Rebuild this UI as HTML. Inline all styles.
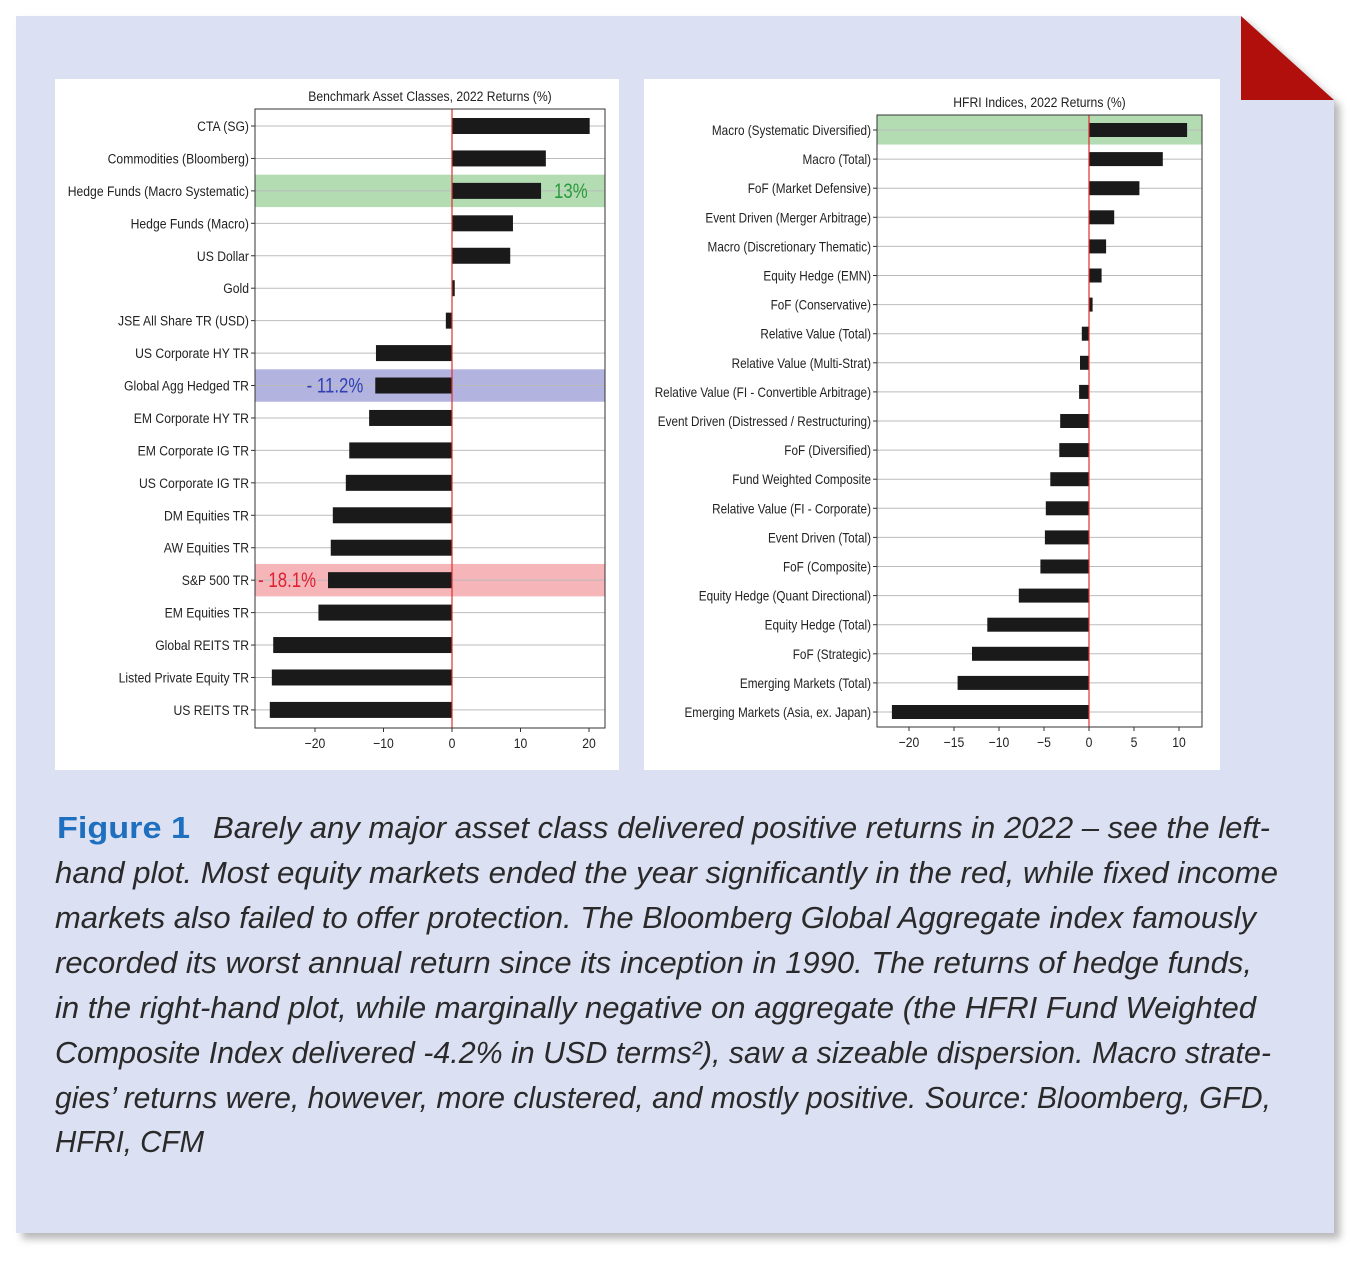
<!DOCTYPE html>
<html><head><meta charset="utf-8"><style>
body{margin:0;background:#fff;width:1371px;height:1273px;overflow:hidden;font-family:"Liberation Sans",sans-serif}
</style></head><body>
<svg id="s" width="1371" height="1273" xmlns="http://www.w3.org/2000/svg" style="position:absolute;left:0;top:0">
<defs><filter id="sh" x="-5%" y="-5%" width="110%" height="110%"><feDropShadow dx="6" dy="6" stdDeviation="4" flood-color="#888" flood-opacity="0.6"/></filter></defs>
<polygon points="16,16 1241,16 1334,100 1334,1233 16,1233" fill="#dce0f3" filter="url(#sh)"/>
<polygon points="1241,16 1241,100 1334,100" fill="#b00f0c"/>
<rect x="55" y="79" width="564" height="691" fill="#fff"/>
<rect x="644" y="79" width="576" height="691" fill="#fff"/>
<g id="L"></g>
<g id="R"></g>
<g font-size="31" fill="#2a2a2a" font-style="italic">
<text x="57" y="838" font-style="normal" font-weight="bold" fill="#1e6fbf" textLength="133" lengthAdjust="spacingAndGlyphs">Figure 1</text>
<text x="213" y="838" textLength="1057" lengthAdjust="spacingAndGlyphs">Barely any major asset class delivered positive returns in 2022 – see the left-</text>
<text x="55" y="883" textLength="1223" lengthAdjust="spacingAndGlyphs">hand plot. Most equity markets ended the year significantly in the red, while fixed income</text>
<text x="55" y="928" textLength="1201" lengthAdjust="spacingAndGlyphs">markets also failed to offer protection. The Bloomberg Global Aggregate index famously</text>
<text x="55" y="973" textLength="1197" lengthAdjust="spacingAndGlyphs">recorded its worst annual return since its inception in 1990. The returns of hedge funds,</text>
<text x="55" y="1018" textLength="1201" lengthAdjust="spacingAndGlyphs">in the right-hand plot, while marginally negative on aggregate (the HFRI Fund Weighted</text>
<text x="55" y="1063" textLength="1216" lengthAdjust="spacingAndGlyphs">Composite Index delivered -4.2% in USD terms²), saw a sizeable dispersion. Macro strate-</text>
<text x="55" y="1108" textLength="1216" lengthAdjust="spacingAndGlyphs">gies’ returns were, however, more clustered, and mostly positive. Source: Bloomberg, GFD,</text>
<text x="55" y="1152" textLength="149" lengthAdjust="spacingAndGlyphs">HFRI, CFM</text>
</g>
</svg>
<script>
const leftCats=["CTA (SG)","Commodities (Bloomberg)","Hedge Funds (Macro Systematic)","Hedge Funds (Macro)","US Dollar","Gold","JSE All Share TR (USD)","US Corporate HY TR","Global Agg Hedged TR","EM Corporate HY TR","EM Corporate IG TR","US Corporate IG TR","DM Equities TR","AW Equities TR","S&P 500 TR","EM Equities TR","Global REITS TR","Listed Private Equity TR","US REITS TR"];
const leftVals=[20.1,13.7,13.0,8.9,8.5,0.4,-0.9,-11.1,-11.2,-12.1,-15.0,-15.5,-17.4,-17.7,-18.1,-19.5,-26.1,-26.3,-26.6];
const leftTicks=[-20,-10,0,10,20];
const rightCats=["Macro (Systematic Diversified)","Macro (Total)","FoF (Market Defensive)","Event Driven (Merger Arbitrage)","Macro (Discretionary Thematic)","Equity Hedge (EMN)","FoF (Conservative)","Relative Value (Total)","Relative Value (Multi-Strat)","Relative Value (FI - Convertible Arbitrage)","Event Driven (Distressed / Restructuring)","FoF (Diversified)","Fund Weighted Composite","Relative Value (FI - Corporate)","Event Driven (Total)","FoF (Composite)","Equity Hedge (Quant Directional)","Equity Hedge (Total)","FoF (Strategic)","Emerging Markets (Total)","Emerging Markets (Asia, ex. Japan)"];
const rightVals=[10.9,8.2,5.6,2.8,1.9,1.4,0.4,-0.8,-1.0,-1.1,-3.2,-3.3,-4.3,-4.8,-4.9,-5.4,-7.8,-11.3,-13.0,-14.6,-21.9];
const rightTicks=[-20,-15,-10,-5,0,5,10];
const NS="http://www.w3.org/2000/svg";
function mk(p,t,a,txt){const e=document.createElementNS(NS,t);for(const k in a)e.setAttribute(k,a[k]);if(txt!==undefined)e.textContent=txt;p.appendChild(e);return e;}
function tx(p,x,y,a,txt,sx){sx=sx||0.87;a.x=x/sx;a.y=y;a.transform='scale('+sx+',1)';return mk(p,'text',a,txt);}
function chart(g,o,cats,vals,ticks){
  const x=v=>o.zx+v*o.ppu;
  const y=i=>o.y0+i*o.step;
  mk(g,'rect',{x:o.l,y:o.t,width:o.r-o.l,height:o.b-o.t,fill:'#fff'});
  (o.hl||[]).forEach(h=>{const r=mk(g,'rect',{x:o.l,y:y(h.i)-o.step/2,width:o.r-o.l,height:o.step,fill:h.fill});
    
    });
  cats.forEach((c,i)=>{
    mk(g,'line',{x1:o.l,x2:o.r,y1:y(i),y2:y(i),stroke:'#bbb','stroke-width':1});
    mk(g,'line',{x1:o.l-4,x2:o.l,y1:y(i),y2:y(i),stroke:'#333'});
    const t=tx(g,o.l-6,y(i)+5,{'text-anchor':'end','font-size':o.fs,fill:'#222'},c);
    
    
    const v=vals[i];
    const b=mk(g,'rect',{x:Math.min(x(0),x(v)),y:y(i)-o.bh/2,width:Math.abs(x(v)-x(0)),height:o.bh,fill:'#1a1a1a'});
    
    
  });
  ticks.forEach(tk=>{
    mk(g,'line',{x1:x(tk),x2:x(tk),y1:o.b,y2:o.b+4,stroke:'#333'});
    const t=tx(g,x(tk),o.b+20,{'text-anchor':'middle','font-size':14,fill:'#222'},tk<0?'−'+(-tk):String(tk));
    
    
  });
  mk(g,'line',{x1:x(0),x2:x(0),y1:o.t,y2:o.b,stroke:'#e03030','stroke-width':1.2});
  mk(g,'rect',{x:o.l,y:o.t,width:o.r-o.l,height:o.b-o.t,fill:'none',stroke:'#333','stroke-width':1});
  const tt=tx(g,(o.l+o.r)/2,o.t-8,{'text-anchor':'middle','font-size':14,fill:'#222'},o.title);
  
  
  (o.ann||[]).forEach(a=>{const t=tx(g,x(vals[a.i])+a.dx,y(a.i)+7,{'font-size':21,fill:a.fill,'text-anchor':a.anchor},a.txt,0.8);
    
    });
}
chart(document.getElementById('L'),{l:255,r:605,t:109,b:728,zx:452,ppu:6.85,y0:126,step:32.44,bh:16,fs:14,title:'Benchmark Asset Classes, 2022 Returns (%)',
 hl:[{i:2,fill:'#b3dcb3'},{i:8,fill:'#b3b3e0'},{i:14,fill:'#f5b5b9'}],
 ann:[{i:2,dx:13,fill:'#2a9a3a',anchor:'start',txt:'13%'},{i:8,dx:-12,fill:'#3040b0',anchor:'end',txt:'- 11.2%'},{i:14,dx:-12,fill:'#e02030',anchor:'end',txt:'- 18.1%'}]},leftCats,leftVals,leftTicks);
chart(document.getElementById('R'),{l:877,r:1202,t:115,b:727,zx:1089,ppu:9.0,y0:130,step:29.1,bh:14,fs:13.5,title:'HFRI Indices, 2022 Returns (%)',
 hl:[{i:0,fill:'#b3dcb3'}]},rightCats,rightVals,rightTicks);
</script>
</body></html>
